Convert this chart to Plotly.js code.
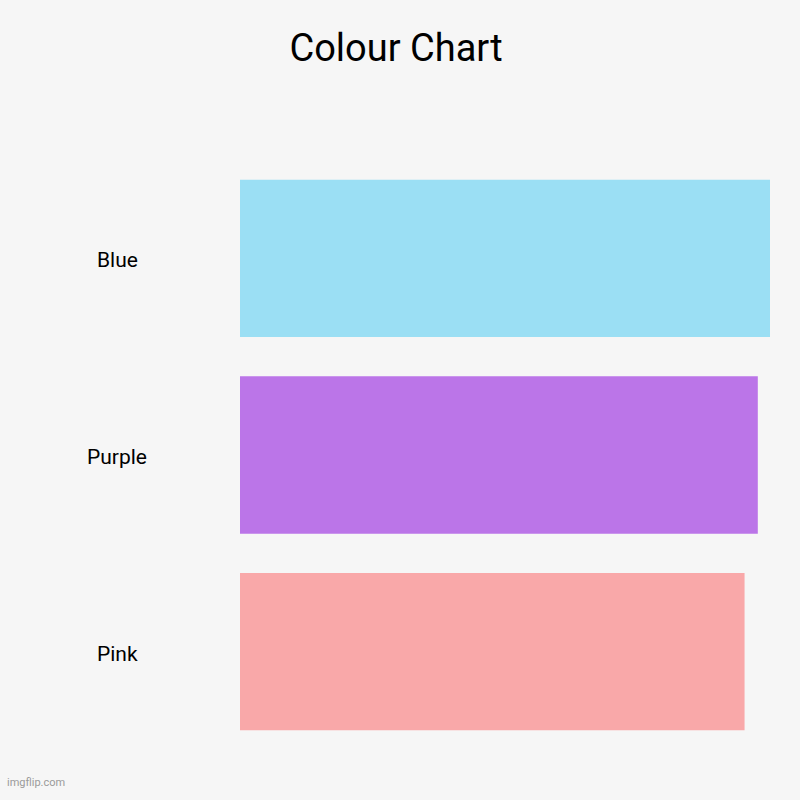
<!DOCTYPE html>
<html>
<head>
<meta charset="utf-8">
<script src="https://cdn.plot.ly/plotly-3.0.1.min.js"></script>
<style>
  html, body { margin: 0; padding: 0; background: #f6f6f6; }
  #chart { width: 800px; height: 800px; }
</style>
</head>
<body>
<div id="chart"></div>
<script>
const categories = ['Blue', 'Purple', 'Pink'];
const values = [100, 97.7, 95.2];
const barColors = ['#9bdff4', '#bb75e8', '#f9a8a9'];

const data = [{
  type: 'bar',
  orientation: 'h',
  y: categories,
  x: values,
  marker: { color: barColors },
  hoverinfo: 'none'
}];

// category labels centred in the left margin
const labelNotes = categories.map(c => ({
  text: c,
  x: -0.232,
  xref: 'paper',
  y: c,
  yref: 'y',
  yshift: -2,
  xanchor: 'center',
  yanchor: 'middle',
  showarrow: false,
  font: { family: 'Roboto', size: 21, color: '#000' }
}));

const layout = {
  width: 800,
  height: 800,
  paper_bgcolor: '#f6f6f6',
  plot_bgcolor: '#f6f6f6',
  showlegend: false,
  bargap: 0.2,
  margin: { l: 240, r: 30, t: 160, b: 50 },
  title: {
    text: 'Colour Chart',
    font: { family: 'Roboto', size: 38, color: '#000' },
    x: 0.495,
    xanchor: 'center',
    y: 0.941,
    yanchor: 'middle'
  },
  xaxis: {
    range: [0, 100],
    visible: false,
    fixedrange: true
  },
  yaxis: {
    autorange: 'reversed',
    showticklabels: false,
    showgrid: false,
    zeroline: false,
    ticks: '',
    fixedrange: true
  },
  annotations: labelNotes.concat([{
    text: 'imgflip.com',
    // watermark sits in pixels near the bottom-left corner
    x: -235 / 530,
    xref: 'paper',
    xanchor: 'left',
    y: -41 / 590,
    yref: 'paper',
    showarrow: false,
    font: { family: 'Roboto', size: 11, color: '#9a9a9a' }
  }])
};

Plotly.newPlot('chart', data, layout, { displayModeBar: false, staticPlot: true });
</script>
</body>
</html>
